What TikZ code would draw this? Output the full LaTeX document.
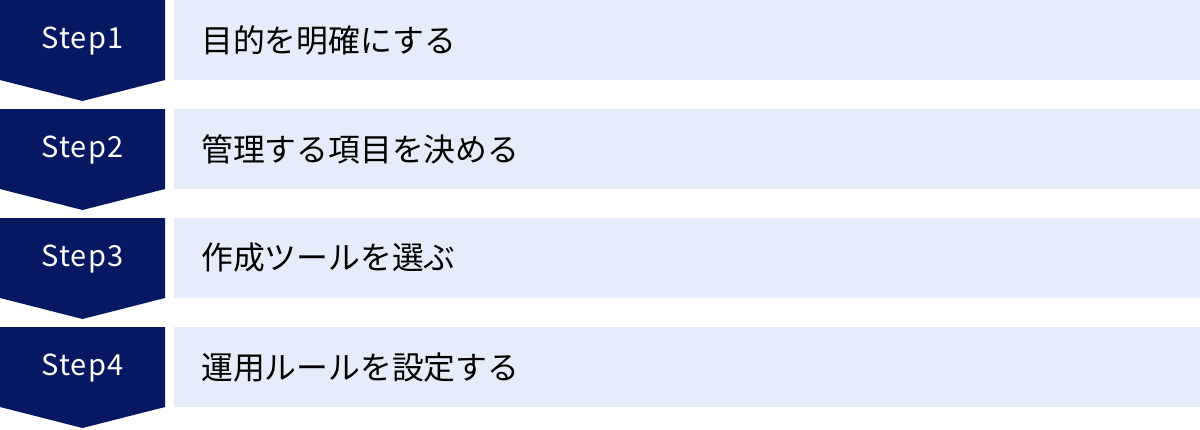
\documentclass[tikz,border=0pt]{standalone}
\usepackage{fontspec}
\setmainfont{Noto Sans CJK JP}
\definecolor{stepnavy}{RGB}{6,24,98}
\definecolor{itemblue}{RGB}{230,236,249}
\tikzset{
  stepbox/.style={fill=stepnavy,draw=none},
  itembox/.style={fill=itemblue,draw=none},
  steplabel/.style={text=white,inner sep=0pt,font=\fontsize{29}{29}\selectfont\addfontfeature{LetterSpace=4}},
  itemlabel/.style={text=black,inner sep=0pt,anchor=west,font=\fontsize{31.8}{31.8}\selectfont}
}
\begin{document}
\begin{tikzpicture}[x=1pt,y=-1pt]
  \useasboundingbox (0,0) rectangle (1200,429);

  \fill[stepbox] (0,0) -- (165,0) -- (165,80) -- (82.5,101) -- (0,80) -- cycle;
  \fill[itembox] (174,0) rectangle (1200,80);
  \node[steplabel] (s1) at (82.5,41) {Step1};
  \node[itemlabel] (t1) at (201,40) {目的を明確にする};

  \fill[stepbox] (0,109) -- (165,109) -- (165,189) -- (82.5,210) -- (0,189) -- cycle;
  \fill[itembox] (174,109) rectangle (1200,189);
  \node[steplabel] (s2) at (82.5,150) {Step2};
  \node[itemlabel] (t2) at (201,149) {管理する項目を決める};

  \fill[stepbox] (0,218) -- (165,218) -- (165,298) -- (82.5,319) -- (0,298) -- cycle;
  \fill[itembox] (174,218) rectangle (1200,298);
  \node[steplabel] (s3) at (82.5,259) {Step3};
  \node[itemlabel] (t3) at (201,258) {作成ツールを選ぶ};

  \fill[stepbox] (0,327) -- (165,327) -- (165,407) -- (82.5,428) -- (0,407) -- cycle;
  \fill[itembox] (174,327) rectangle (1200,407);
  \node[steplabel] (s4) at (82.5,368) {Step4};
  \node[itemlabel] (t4) at (201,367) {運用ルールを設定する};
\end{tikzpicture}
\end{document}
